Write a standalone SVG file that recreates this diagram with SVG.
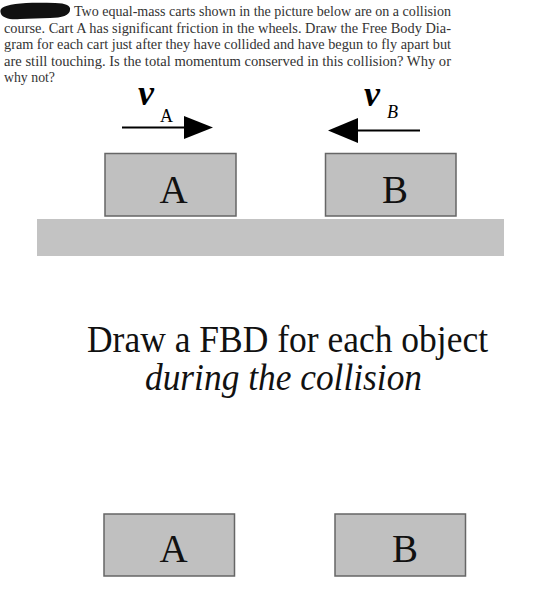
<svg xmlns="http://www.w3.org/2000/svg" width="555" height="614" viewBox="0 0 555 614">
<style>
.para{font-family:"Liberation Serif","Times New Roman",serif;font-size:14.5px;fill:#333}
.cart{fill:#c0c0c0;stroke:#666;stroke-width:1.5}
.lbl{font-family:"Liberation Serif","Times New Roman",serif;font-size:39px;fill:#111;text-anchor:middle}
.big{font-family:"Liberation Serif","Times New Roman",serif;font-size:37px;fill:#111}
.arr{stroke:#000;stroke-width:2.2;fill:none}
.head{fill:#000}
.v{font-family:"Liberation Serif","Times New Roman",serif;fill:#000}
</style>
<rect width="555" height="614" fill="#fff"/>
<path id="redact" d="M2,8 C8,3 30,2 55,3 C66,3 71,6 70,10 C70,15 62,18 50,18 L20,19 C10,20 3,18 1,14 C0,11 0,10 2,8 Z" fill="#111"/>
<g id="problem-text">
<text class="para" x="74" y="16" textLength="377" lengthAdjust="spacingAndGlyphs">Two equal-mass carts shown in the picture below are on a collision</text>
<text class="para" x="4" y="32.5" textLength="447" lengthAdjust="spacingAndGlyphs">course. Cart A has significant friction in the wheels. Draw the Free Body Dia-</text>
<text class="para" x="4" y="49" textLength="447" lengthAdjust="spacingAndGlyphs">gram for each cart just after they have collided and have begun to fly apart but</text>
<text class="para" x="4" y="65.5" textLength="447" lengthAdjust="spacingAndGlyphs">are still touching. Is the total momentum conserved in this collision? Why or</text>
<text class="para" x="4" y="82" textLength="51" lengthAdjust="spacingAndGlyphs">why not?</text>
</g>
<g id="connectors">
<line class="arr" x1="122" y1="127.5" x2="186" y2="127.5"/>
<polygon class="head" points="184,116 213,127.5 184,139"/>
<line class="arr" x1="356" y1="130.5" x2="420" y2="130.5"/>
<polygon class="head" points="358,118 328,130.5 358,143"/>
</g>
<g id="vA">
<text class="v" x="138" y="105" font-size="36" font-weight="bold" font-style="italic">v</text>
<text class="v" x="160" y="122" font-size="18">A</text>
</g>
<g id="vB">
<text class="v" x="364" y="106" font-size="36" font-weight="bold" font-style="italic">v</text>
<text class="v" x="387" y="118" font-size="18" font-style="italic">B</text>
</g>
<g id="cartA-top">
<rect class="cart" x="105" y="153.5" width="131" height="62.5"/>
<text class="lbl" x="173.5" y="202.5">A</text>
</g>
<g id="cartB-top">
<rect class="cart" x="325.5" y="153.5" width="130.5" height="62.5"/>
<text class="lbl" x="395" y="202.5">B</text>
</g>
<g id="floor">
<rect x="37" y="219" width="467" height="37" fill="#c3c3c3"/>
</g>
<g id="caption">
<text class="big" x="87" y="351.5" textLength="401" lengthAdjust="spacingAndGlyphs">Draw a FBD for each object</text>
<text class="big" x="145" y="390" font-style="italic" textLength="277" lengthAdjust="spacingAndGlyphs">during the collision</text>
</g>
<g id="cartA-bottom">
<rect class="cart" x="104" y="514" width="130.5" height="62"/>
<text class="lbl" x="173.5" y="561.5">A</text>
</g>
<g id="cartB-bottom">
<rect class="cart" x="335" y="514" width="130.5" height="62"/>
<text class="lbl" x="405" y="561.5">B</text>
</g>
</svg>
